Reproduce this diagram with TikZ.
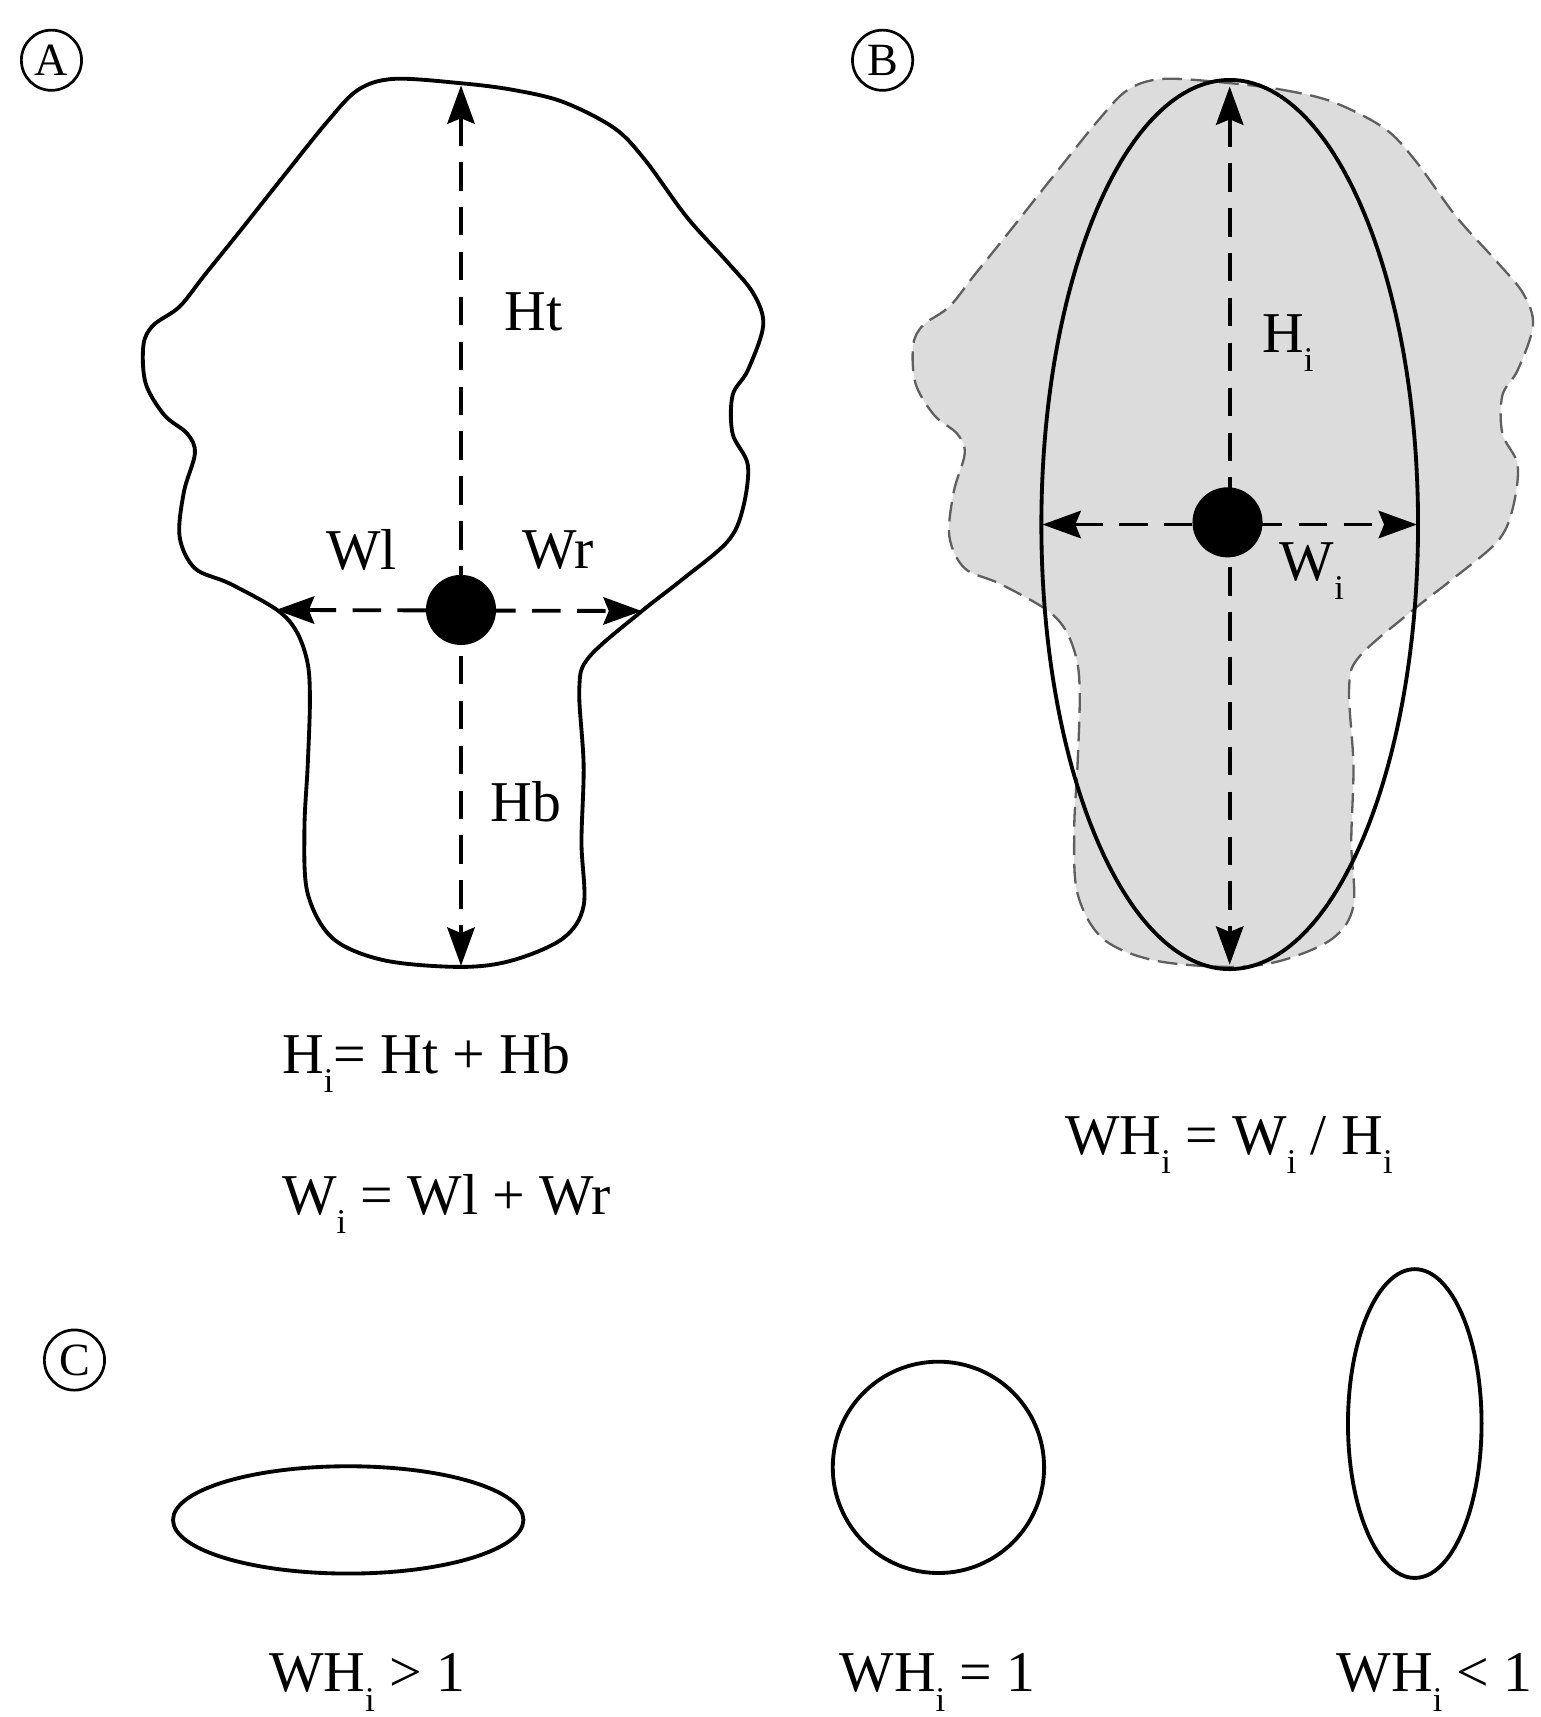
\documentclass[tikz,border=0pt]{standalone}
\usepackage{fontspec}
\setmainfont{Liberation Serif}
\usetikzlibrary{arrows.meta}
\definecolor{fillgray}{RGB}{220,220,220}
\definecolor{edgegray}{RGB}{95,95,95}
\newcommand{\sbi}{\raisebox{-5pt}{\fontsize{9}{9}\selectfont i}}
\tikzset{
  blob/.pic={
    \path[pic actions] plot[smooth cycle, tension=0.55] coordinates {
      (421,76) (468,82) (514,93) (561,117) (589,146) (627,198) (664,239)
      (688,268) (697,297) (683,338) (669,361) (669,396) (683,425) (678,466)
      (664,495) (622,530) (585,559) (538,600) (529,629) (533,699) (531,769)
      (533,827) (514,857) (468,877) (421,883) (351,877) (304,857) (281,816)
      (278,758) (281,699) (283,641) (281,606) (271,577) (253,557) (210,533)
      (178,519) (164,490) (168,449) (178,414) (171,396) (150,379) (133,350)
      (131,315) (140,297) (164,280) (187,251) (220,210) (262,157) (299,111)
      (327,82) (360,72)};
  }
}
\begin{document}
\begin{tikzpicture}[x=0.1mm,y=-0.1mm,
  outline/.style={line width=1pt, line join=round},
  measure/.style={line width=1pt, dash pattern=on 2.6mm off 1.5mm,
    {Stealth[length=3.5mm,width=2.5mm,inset=0.5mm]}-{Stealth[length=3.5mm,width=2.5mm,inset=0.5mm]}},
  centre/.style={circle, fill=black, inner sep=0pt, minimum size=6.4mm},
  lab/.style={font=\fontsize{15}{18}\selectfont, inner sep=0pt},
  lbl/.style={lab, anchor=base west},
  tag/.style={circle, draw, line width=0.7pt, minimum size=5.5mm, inner sep=0pt,
    font=\fontsize{12}{12}\selectfont},
  shade/.style={fill=fillgray, draw=edgegray, line width=0.6pt, dash pattern=on 1.8mm off 0.8mm}
]
\useasboundingbox (0,0) rectangle (1407,1568);

% ---------- panel A ----------
\node[tag] (tagA) at (47,55) {A};
\pic[draw, outline] at (0,0) {blob};
\coordinate (Atop) at (421,78);
\coordinate (Abot) at (421,882);
\coordinate (Al) at (252,557);
\coordinate (Ar) at (586,558);
\draw[measure] (Atop) -- (Abot);
\draw[measure] (Al) -- (Ar);
\node[centre] (Adot) at (421,557) {};
\node[lab] (Ht) at (487,285) {Ht};
\node[lab] (Wl) at (330,502) {Wl};
\node[lab] (Wr) at (510,502) {Wr};
\node[lab] (Hb) at (480,732) {Hb};
\node[lbl] (fH) at (257,980) {H\sbi= Ht + Hb};
\node[lbl] (fW) at (257,1109) {W\sbi{} = Wl + Wr};

% ---------- panel B ----------
\node[tag] (tagB) at (806,55) {B};
\pic[shade] at (703,0) {blob};
\draw[outline] (1123,479) ellipse [x radius=17.2mm, y radius=40.6mm];
\coordinate (Btop) at (1123,79);
\coordinate (Bbot) at (1123,881);
\coordinate (Bl) at (952,479);
\coordinate (Br) at (1294,479);
\draw[measure] (Btop) -- (Bbot);
\draw[measure] (Bl) -- (Br);
\node[centre] (Bdot) at (1121,477) {};
\node[lbl] (Hi) at (1152,322) {H\sbi};
\node[lbl] (Wi) at (1168,530) {W\sbi};
\node[lbl] (fWH) at (972,1054) {WH\sbi{} = W\sbi{} / H\sbi};

% ---------- panel C ----------
\node[tag] (tagC) at (68,1242) {C};
\draw[outline] (318,1388) ellipse [x radius=16mm, y radius=4.9mm];
\draw[outline] (857,1340) circle [radius=9.65mm];
\draw[outline] (1292,1300) ellipse [x radius=6.1mm, y radius=14.1mm];
\node[lbl] (c1) at (245,1545) {WH\sbi{} > 1};
\node[lbl] (c2) at (766,1545) {WH\sbi{} = 1};
\node[lbl] (c3) at (1220,1545) {WH\sbi{} < 1};
\end{tikzpicture}
\end{document}
